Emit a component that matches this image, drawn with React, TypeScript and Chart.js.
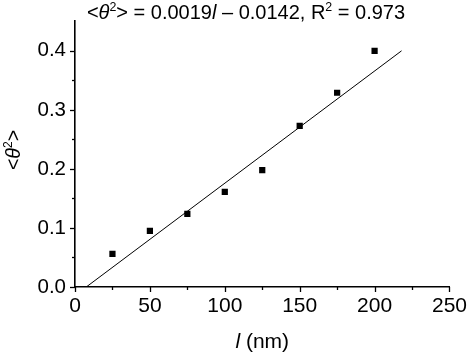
import React, { useEffect, useRef } from "react";
import { Chart, registerables } from "chart.js";

Chart.register(...registerables);

const lengths = [25, 50, 75, 100, 125, 150, 175, 200];
const theta2 = [0.056, 0.095, 0.124, 0.161, 0.198, 0.273, 0.329, 0.4];
const fitX = [7.5, 218];
const fitY = [0, 0.4];
const xRange = [0, 250];
const yRange = [0, 0.45];

const FONT = "'Liberation Sans', Arial, sans-serif";

const decorPlugin = {
  id: "decor",
  afterDraw(chart: any) {
    const ctx = chart.ctx as CanvasRenderingContext2D;
    const xs = chart.scales.x;
    const ys = chart.scales.y;
    const area = chart.chartArea;
    ctx.save();
    ctx.strokeStyle = "#000";
    ctx.lineWidth = 1.3;
    xs.ticks.forEach((t: any) => {
      const px = Math.round(xs.getPixelForValue(t.value)) + 0.5;
      const major = Math.abs(t.value / 50 - Math.round(t.value / 50)) < 1e-6;
      ctx.beginPath();
      ctx.moveTo(px, area.bottom);
      ctx.lineTo(px, area.bottom + (major ? 5 : 3));
      ctx.stroke();
    });
    ys.ticks.forEach((t: any) => {
      if (t.value > 0.4 + 1e-6) return;
      const py = Math.round(ys.getPixelForValue(t.value)) + 0.5;
      const major = Math.abs(t.value * 10 - Math.round(t.value * 10)) < 1e-6;
      ctx.beginPath();
      ctx.moveTo(area.left, py);
      ctx.lineTo(area.left - (major ? 5 : 3), py);
      ctx.stroke();
    });

    ctx.fillStyle = "#000";
    ctx.textBaseline = "alphabetic";
    ctx.textAlign = "left";

    const drawRich = (segs: [string, boolean, boolean][], size: number) => {
      let w = 0;
      segs.forEach(([s, it, sup]) => {
        const fs = sup ? size * 0.62 : size;
        ctx.font = `${it ? "italic " : ""}${fs}px ${FONT}`;
        w += ctx.measureText(s).width;
      });
      let x = -w / 2;
      segs.forEach(([s, it, sup]) => {
        const fs = sup ? size * 0.62 : size;
        ctx.font = `${it ? "italic " : ""}${fs}px ${FONT}`;
        ctx.fillText(s, x, sup ? -size * 0.42 : 0);
        x += ctx.measureText(s).width;
      });
    };

    ctx.save();
    ctx.translate(246, 19);
    drawRich(
      [
        ["<", false, false],
        ["θ", true, false],
        ["2", false, true],
        ["> = 0.0019", false, false],
        ["l", true, false],
        [" – 0.0142, R", false, false],
        ["2", false, true],
        [" = 0.973", false, false],
      ],
      20
    );
    ctx.restore();

    ctx.save();
    ctx.translate((area.left + area.right) / 2, 348);
    drawRich(
      [
        ["l", true, false],
        [" (nm)", false, false],
      ],
      21
    );
    ctx.restore();

    ctx.save();
    ctx.translate(20, 150);
    ctx.rotate(-Math.PI / 2);
    drawRich(
      [
        ["<", false, false],
        ["θ", true, false],
        ["2", false, true],
        [">", false, false],
      ],
      19.5
    );
    ctx.restore();

    ctx.restore();
  },
};

export default function App() {
  const ref = useRef<HTMLCanvasElement>(null);
  useEffect(() => {
    if (!ref.current) return;
    const chart = new Chart(ref.current, {
      type: "scatter",
      data: {
        datasets: [
          {
            label: "data",
            data: lengths.map((x, i) => ({ x, y: theta2[i] })),
            pointStyle: "rect",
            pointRadius: 4.4,
            backgroundColor: "#000",
            borderColor: "#000",
            borderWidth: 0,
          },
          {
            label: "fit",
            type: "line",
            data: fitX.map((x, i) => ({ x, y: fitY[i] })),
            borderColor: "#000",
            borderWidth: 1,
            pointRadius: 0,
            fill: false,
          } as any,
        ],
      },
      options: {
        animation: false,
        responsive: false,
        layout: { padding: { left: 0, right: 17, top: 3, bottom: 0 } },
        plugins: { legend: { display: false }, tooltip: { enabled: false }, title: { display: false } },
        scales: {
          x: {
            type: "linear",
            min: xRange[0],
            max: xRange[1],
            grid: { display: false, drawTicks: false },
            border: { display: true, color: "#000", width: 1.6 },
            ticks: {
              stepSize: 25,
              padding: 7,
              color: "#000",
              font: { family: FONT, size: 21 },
              autoSkip: false,
              maxRotation: 0,
              callback: (v: any) => (Math.abs(v / 50 - Math.round(v / 50)) < 1e-6 ? String(v) : ""),
            },
            afterFit: (s: any) => {
              s.height = 66;
            },
          },
          y: {
            type: "linear",
            min: yRange[0],
            max: yRange[1],
            grid: { display: false, drawTicks: false },
            border: { display: true, color: "#000", width: 1.6 },
            ticks: {
              stepSize: 0.05,
              padding: 9,
              color: "#000",
              font: { family: FONT, size: 20.5 },
              autoSkip: false,
              callback: (v: any) =>
                v <= 0.4 + 1e-6 && Math.abs(v * 10 - Math.round(v * 10)) < 1e-6 ? Number(v).toFixed(1) : "",
            },
            afterFit: (s: any) => {
              s.width = 75;
            },
          },
        },
      },
      plugins: [decorPlugin],
    });
    return () => chart.destroy();
  }, []);
  return (
    <div style={{ position: "absolute", left: 0, top: 0, width: 474, height: 353, background: "#fff" }}>
      <canvas ref={ref} width={474} height={353} />
    </div>
  );
}
